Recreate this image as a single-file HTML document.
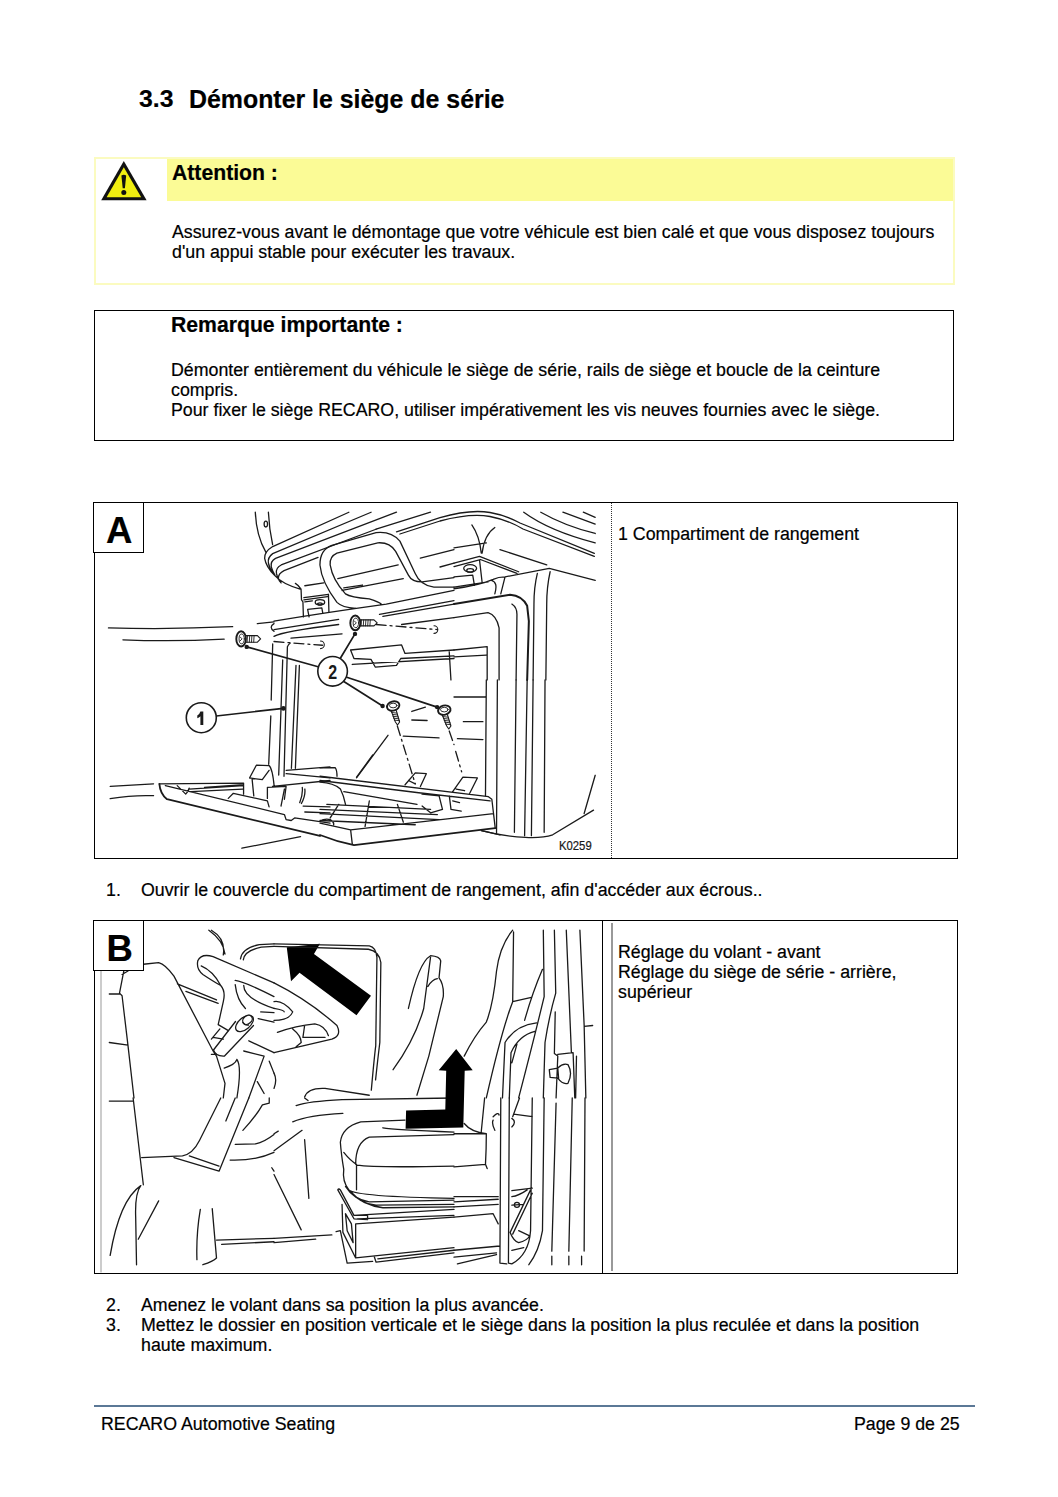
<!DOCTYPE html>
<html><head><meta charset="utf-8">
<style>
html,body{margin:0;padding:0;background:#fff;}
body{width:1058px;height:1497px;position:relative;overflow:hidden;font-family:"Liberation Sans",sans-serif;color:#000;}
.t{position:absolute;white-space:pre;line-height:1;-webkit-text-stroke:0.2px #000;}
.r{font-size:17.77px;}
.b{font-weight:bold;}
.box{position:absolute;box-sizing:border-box;}
svg{position:absolute;left:0;top:0;}
</style></head>
<body>
<!-- Title -->
<div class="t b" id="h33" style="left:139px;top:86.5px;font-size:24.8px;">3.3</div>
<div class="t b" id="htitle" style="left:189px;top:86.5px;font-size:24.9px;">Démonter le siège de série</div>

<!-- Attention box -->
<div class="box" style="left:94px;top:157px;width:861px;height:128px;border:2px solid #fbfbc0;"></div>
<div class="box" style="left:167px;top:159px;width:786px;height:42px;background:#fbfb96;"></div>
<svg width="1058" height="1497" style="pointer-events:none">
  <polygon points="123.8,160.9 101.2,200.2 146.6,200.2" fill="#111" />
  <polygon points="123.8,167.2 106.6,197.2 141.2,197.2" fill="#f0ee10" />
  <path d="M121.4,175.6 Q123.8,173.8 126.2,175.6 L124.9,188.2 L122.7,188.2 Z" fill="#111"/>
  <circle cx="123.8" cy="192.5" r="2.5" fill="#111"/>
</svg>
<div class="t b" id="attn" style="left:172px;top:162px;font-size:21.2px;">Attention :</div>
<div class="t r" style="left:172px;top:221.6px;line-height:20px;">Assurez-vous avant le démontage que votre véhicule est bien calé et que vous disposez toujours
d'un appui stable pour exécuter les travaux.</div>

<!-- Remarque box -->
<div class="box" style="left:94px;top:310px;width:860px;height:131px;border:1px solid #000;"></div>
<div class="t b" id="rem" style="left:171px;top:314px;font-size:21.2px;">Remarque importante :</div>
<div class="t r" style="left:171px;top:360px;line-height:20px;">Démonter entièrement du véhicule le siège de série, rails de siège et boucle de la ceinture
compris.
Pour fixer le siège RECARO, utiliser impérativement les vis neuves fournies avec le siège.</div>

<!-- Table A -->
<div class="box" style="left:94px;top:502px;width:864px;height:357px;border:1px solid #000;"></div>
<!--IMGA-->
<svg width="1058" height="1497" style="position:absolute;left:0;top:0" fill="none" stroke="#1a1a1a" stroke-width="1.3" stroke-linecap="round" stroke-linejoin="round">
<g transform="translate(94 502) scale(0.17013)">
<path vector-effect="non-scaling-stroke" d="M85,740 Q450,750 815,733 M170,810 Q460,822 765,806 M948,60 Q955,200 1010,295 M1025,60 Q1030,160 1050,250 M960,715 L1058,705 M1058,715 Q1025,735 1058,760"/>
<ellipse vector-effect="non-scaling-stroke" cx="1010" cy="130" rx="10" ry="17"/>




</g>
<g transform="translate(274 502) scale(0.17013)">
<path vector-effect="non-scaling-stroke" d="M600,160 L920,60 M860,330 L1058,280 
M270,370 Q270,280 340,255 L600,180 Q690,170 740,230 L830,420 Q860,490 940,500 L1058,500
M330,370 Q325,320 370,300 L610,240 Q680,235 715,290 L790,430 Q810,470 870,470 L1058,445
M270,370 Q280,470 370,590 Q400,620 480,625 M330,370 Q345,460 420,540 Q450,560 560,570 Q620,590 630,600
M375,450 L730,370 M400,520 L760,450 M410,505 L520,488

M0,700 Q300,650 660,600 L1058,520 M0,750 L380,690 M0,790 Q50,760 380,720 M620,660 L1058,580 M640,672 L1058,600 M750,720 L1058,680 M100,800 L400,775
M450,870 L750,840 L770,890 L1058,870 M450,870 L470,920 L570,925 L595,970 L720,960 L745,920 L1058,905 M460,955 L1058,920
M1030,880 L1040,1046"/>
<path vector-effect="non-scaling-stroke" stroke-dasharray="10 4 2 4" d="M600,720 L960,750 M0,820 L285,842"/>




</g>
<g transform="translate(454 502) scale(0.17013)">
<path vector-effect="non-scaling-stroke" d="M410,60 Q560,170 830,240 M510,60 Q650,140 830,185 M640,60 L830,130 M760,60 L830,90 M270,280 L545,370 M105,135 Q150,200 160,300 M240,150 Q180,190 165,300 M0,270 L190,240
M0,360 L150,320 L380,410 M0,380 L155,338 L370,420 M150,340 L165,470 M0,440 L110,430 L120,490 M0,500 L200,470
M0,510 Q150,490 230,455 Q260,440 300,440 L560,390 L830,460 M220,460 Q260,470 240,540 M300,440 Q290,480 275,540
M490,420 Q470,500 470,600 L465,1046 M565,410 Q545,500 545,600 L540,1046
M0,680 L200,650 Q250,665 265,740 L265,1046 M340,600 Q370,620 370,660 L365,1046 M0,870 L195,850 L195,1046 M0,910 L190,900"/>
<path vector-effect="non-scaling-stroke" stroke-width="2" d="M0,600 L330,545 Q400,550 430,610 L440,700 L430,1046"/>
<ellipse vector-effect="non-scaling-stroke" cx="95" cy="390" rx="38" ry="22"/>
<ellipse vector-effect="non-scaling-stroke" cx="95" cy="402" rx="20" ry="10"/>
</g>
<g transform="translate(94 680) scale(0.17013)">

<path vector-effect="non-scaling-stroke" d="M95,625 L350,610 M95,697 Q230,675 350,680
"/>

</g>
<g transform="translate(274 680) scale(0.17013)">
<path vector-effect="non-scaling-stroke" d="M810,185 L890,160 M810,235 L900,238 M760,330 L970,340 M670,325 L485,575
"/>

<path vector-effect="non-scaling-stroke" stroke-dasharray="10 4 2 4" d="M725,270 L830,610 M1030,300 L1058,380"/>





</g>
<g transform="translate(454 680) scale(0.17013)">
<path vector-effect="non-scaling-stroke" d="M190,0 L185,680 M255,0 L250,900 M365,0 L355,895 M430,0 L415,915 M465,0 L455,915 M535,0 L530,895
M160,885 Q300,920 420,925 Q520,930 580,910 L820,765 M830,560 L765,785
M0,100 L185,100 M55,245 L170,245 M20,345 L170,350
"/>
<path vector-effect="non-scaling-stroke" stroke-dasharray="10 4 2 4" d="M10,420 L45,540"/>
</g>
<g transform="translate(250 530) scale(0.094518)">
<path vector-effect="non-scaling-stroke" d="M1046,-188 L240,175 Q150,230 155,300 Q170,390 260,480 Q340,570 530,625 M1281,-188 L240,250 Q185,290 195,350 Q205,410 250,460 M1550,-188 L270,300 Q215,330 225,390 Q240,440 265,480 M1333,-8 L330,370 Q270,400 280,460 Q290,500 300,520 M720,290 L360,430 Q300,460 300,510 Q305,540 330,560
M480,565 Q520,590 540,625 L545,740 L560,760 L565,920 M580,590 L780,560 M570,715 L830,680 L835,870 M570,740 L820,705 M580,760 L660,750 M610,840 L625,920 M610,840 L760,825 L770,880"/>
<ellipse vector-effect="non-scaling-stroke" cx="740" cy="765" rx="50" ry="28"/>
<ellipse vector-effect="non-scaling-stroke" cx="740" cy="782" rx="25" ry="12"/>
</g>
<g transform="translate(150 755) scale(0.17013)">
<path vector-effect="non-scaling-stroke" d="M55,170 L550,165 M90,180 L790,350 L800,380 L830,385 L850,370 L1058,400 M160,180 Q185,205 210,230 Q225,215 230,195
M230,200 L550,180 M240,215 L545,200 M320,190 L550,175 M460,255 L490,225 L690,270 L700,305
M585,135 L625,60 L700,62 Q720,80 730,185 M585,135 L660,145 L700,90 M550,165 L550,230 M600,140 L610,240 M690,190 L690,255 M690,190 L800,185 L790,260 M770,300 L790,200
M720,185 L1058,150 M800,90 L1058,70 M800,110 L1058,135 M900,300 L1058,305 M910,335 L1058,340 M540,548 L885,480 M895,190 Q900,230 880,280 M910,200 Q915,240 890,285"/>
<path vector-effect="non-scaling-stroke" stroke-width="1.8" d="M55,170 Q60,230 100,260 L999,476"/>
</g>
<g transform="translate(320 755) scale(0.17013)">
<path vector-effect="non-scaling-stroke" d="M0,75 L90,75 Q100,90 100,125 M0,125 L990,245 L1010,260 L1020,345 M0,150 L580,222 L1000,270 M140,215 L570,290
M0,160 Q80,165 120,200 Q140,240 150,290 M40,290 L650,320 M0,320 L690,350 M0,345 L700,380 M0,385 L560,410 M290,270 L265,420 M455,290 L490,395 M110,290 L60,370
M0,400 L180,440 L1020,345 M180,440 L190,525 M1020,345 L1030,430
M500,175 L560,105 L625,110 L590,185 M520,150 L560,170 M780,215 L840,130 L925,135 L880,225 M800,200 L850,210 M215,130 L310,0
M600,230 L700,240 L720,320 L650,340 L600,300 M760,240 L770,320 L830,330 M780,270 L820,280 M950,445 L1058,470 M0,390 Q30,370 60,380 Q85,395 80,410"/>
<path vector-effect="non-scaling-stroke" stroke-width="1.8" d="M0,470 Q100,510 200,530 L1030,430"/>
</g>
<path d="M396.5,531.8 L440,517.6 Q470,509 490,512.5 Q505,515 520,523 L594.3,553.4 M399.9,534 L440,521 Q470,513 490,516.5 Q508,520 523,529 L594.3,556.4 M440,567 L454,563.2"/>
<path d="M434,625.8 A3.8,3.8 0 0 1 434,633.4 M320.5,641 A3.8,3.8 0 0 1 320.5,648.6" stroke-width="1.1"/>
<path d="M216.3,716 L283.4,708.4 M246.7,646.9 L319,667 M355,633.9 L340.5,658 M382.6,706 L343,681 M437.1,707.1 L346,677" stroke-width="1.7"/><circle cx="283.4" cy="708.4" r="2.3" fill="#1a1a1a" stroke="none"/>
<g stroke="#1a1a1a" fill="none"><ellipse cx="241.1" cy="638.9" rx="4.8" ry="7.6" stroke-width="1.9"/><ellipse cx="241.7" cy="638.9" rx="2.64" ry="4.94" stroke-width="0.9"/><path d="M240.1,636.9 L242.1,638.9 L240.1,640.9" stroke-width="0.9"/><path d="M245.5,635.6 L257.4,635.6 L260.59999999999997,638.9 L257.4,642.1999999999999 L245.5,642.1999999999999" stroke-width="1.1"/><path d="M247.5,635.6 L247.1,642.1999999999999 M249.7,635.6 L249.3,642.1999999999999 M251.9,635.6 L251.5,642.1999999999999 M254.1,635.6 L253.7,642.1999999999999" stroke-width="0.9"/><ellipse cx="355.3" cy="622.9" rx="5.0" ry="7.4" stroke-width="1.9"/><ellipse cx="355.90000000000003" cy="622.9" rx="2.75" ry="4.81" stroke-width="0.9"/><path d="M354.3,620.9 L356.3,622.9 L354.3,624.9" stroke-width="0.9"/><path d="M359.5,619.9 L374.0,619.9 L377.2,622.9 L374.0,625.9 L359.5,625.9" stroke-width="1.1"/><path d="M361.5,619.9 L361.1,625.9 M363.7,619.9 L363.3,625.9 M365.9,619.9 L365.5,625.9 M368.1,619.9 L367.7,625.9 M370.3,619.9 L369.9,625.9" stroke-width="0.9"/><ellipse cx="393.2" cy="706" rx="6.3" ry="4.6" stroke-width="1.9" transform="rotate(-15 393.2 706)"/><ellipse cx="393.2" cy="705.5" rx="3.78" ry="2.30" stroke-width="0.9"/><path d="M391.09999999999997,710.6 L395.4,722 L397.5,725 L399.6,722 L396.3,710.6" stroke-width="1.1"/><path d="M391.7,712.5 L396.9,713.1 M392.4,714.4 L397.6,715.0 M393.0,716.3 L398.2,716.9 M393.6,718.2 L398.8,718.8 M394.3,720.1 L399.5,720.7" stroke-width="0.9"/><ellipse cx="444.3" cy="710.1" rx="6.3" ry="4.6" stroke-width="1.9" transform="rotate(-15 444.3 710.1)"/><ellipse cx="444.3" cy="709.6" rx="3.78" ry="2.30" stroke-width="0.9"/><path d="M442.2,714.7 L446.7,726 L448.8,729 L450.90000000000003,726 L447.40000000000003,714.7" stroke-width="1.1"/><path d="M442.9,716.6 L448.1,717.2 M443.5,718.5 L448.7,719.1 M444.2,720.4 L449.4,721.0 M444.9,722.2 L450.1,722.8 M445.5,724.1 L450.7,724.7" stroke-width="0.9"/></g><circle cx="246.7" cy="646.9" r="2.2" fill="#1a1a1a" stroke="none"/><circle cx="355" cy="633.9" r="2.2" fill="#1a1a1a" stroke="none"/><circle cx="382.6" cy="706" r="2.2" fill="#1a1a1a" stroke="none"/><circle cx="437.1" cy="707.1" r="2.2" fill="#1a1a1a" stroke="none"/>
<path d="M272.7,644 L271.2,700 M270.8,716 L268.7,764.3 M282.7,660 L278.7,775 M287.4,646.7 Q288.5,644 290,643.5 M287.4,646.7 L284,776.3 M296,665.4 L291.4,768.3 M299.4,665.4 L295.4,768.3"/>
<circle cx="332.6" cy="671.3" r="14.8" fill="#fff" stroke-width="1.6"/>
<circle cx="201.3" cy="717.7" r="15" fill="#fff" stroke-width="1.6"/>
<text x="0" y="0" transform="translate(332.6 678.6) scale(0.8 1)" style="font-family:'Liberation Sans';font-weight:bold;font-size:20px" fill="#1a1a1a" stroke="none" text-anchor="middle">2</text>
<path d="M200.4,711.6 L203.3,711.6 L203.3,725 L200.4,725 L200.4,716.3 Q199,717.6 197.3,718.2 L197.3,715.6 Q199.6,714.4 200.4,711.6 Z" fill="#1a1a1a" stroke="none"/>
</svg>
<!--/IMGA-->
<div class="box" style="left:611px;top:503px;width:1px;height:355px;border-left:1px dotted #333;"></div>
<div class="box" style="left:93px;top:502px;width:51px;height:51px;border:1.5px solid #000;background:#fff;"></div>
<div class="t b" style="left:106px;top:512.5px;font-size:36.5px;">A</div>
<div class="t r" style="left:618px;top:526px;">1 Compartiment de rangement</div>
<div class="t" style="left:559.3px;top:839.4px;font-size:13px;transform:scaleX(0.87);transform-origin:0 0;color:#222">K0259</div>

<div class="t r" style="left:106px;top:882px;">1.</div>
<div class="t r" style="left:141px;top:882px;">Ouvrir le couvercle du compartiment de rangement, afin d'accéder aux écrous..</div>

<!-- Table B -->
<div class="box" style="left:94px;top:920px;width:864px;height:354px;border:1px solid #000;"></div>
<!--IMGB-->
<svg width="1058" height="1497" style="position:absolute;left:0;top:0" fill="none" stroke="#1a1a1a" stroke-width="1.3" stroke-linecap="round" stroke-linejoin="round">
<line x1="101" y1="970" x2="101" y2="1272" stroke="#aaa" stroke-width="1.2"/>
<g transform="translate(94 920) scale(0.17013)">
<path vector-effect="non-scaling-stroke" d="M290,260 L380,250 Q420,260 470,330 L700,770 L720,800 L770,960 L760,1046
M175,300 L150,430 L165,445 L200,740 L235,1046 M90,435 L150,435 M90,720 L200,735 M165,320 L200,300
M610,240 Q630,195 700,215 L1058,370 M610,240 Q600,290 640,320 Q700,360 745,385 Q775,420 760,480 L730,615 L790,650 M630,270 Q700,300 745,385
M675,60 Q760,120 770,200 M690,60 Q775,110 760,205
M861,229 Q870,165 972,145 L1058,140 M877.6,234 Q885,180 983,160 L1058,155
M830,355 Q880,360 1058,450 M830,380 Q840,470 890,520 M880,385 Q880,460 1058,520 M980,540 L1058,545 M965,580 L1058,600
M690,700 L740,640 M700,690 L760,700 M690,790 L720,790
M490,375 L720,470 M540,420 L730,490 M765,870 Q830,850 840,820 M840,820 Q870,860 840,1046
M910,710 L1058,780 M880,770 L1000,800 L910,1046 M960,950 L1000,1020 M1030,830 L1058,900"/>


</g>
<g transform="translate(274 920) scale(0.17013)">
<polygon points="75,160 270,140 235,200 570,445 485,560 150,310 100,360" fill="#000" stroke="none"/>
<path vector-effect="non-scaling-stroke" d="M0,140 L560,152 Q600,160 605,220 L598,740 Q590,800 572,1000 M0,155 L555,172 Q620,185 628,250 L622,720 Q612,800 597,940
M0,370 Q200,470 370,620 Q400,680 340,700 L0,780
M0,480 Q50,470 110,540 Q90,590 0,590 M0,520 Q60,530 60,540 M20,660 Q130,620 240,610 Q300,620 320,680 M110,640 Q160,680 160,720 L130,745 M180,620 L170,690 L300,690
M790,520 Q850,250 920,210 Q975,215 980,240 L970,340 Q1000,380 995,450 L910,800 L840,1030 M920,220 L880,520 Q830,700 700,880 M905,390 Q930,350 960,345
M180,1040 Q200,985 300,990 L560,1030 M0,900 Q20,940 0,990"/>
</g>
<g transform="translate(454 920) scale(0.17013)">
<path vector-effect="non-scaling-stroke" d="M345,60 Q270,150 250,300 Q230,500 190,600 Q120,680 60,800
M350,70 L345,480 L455,455 M345,480 Q280,650 190,1046 M520,290 Q460,430 415,590
M485,605 Q360,620 300,720 L285,1046 M475,655 Q380,680 335,780 L325,1046 M370,730 L340,840
M525,60 L530,450 Q470,700 380,1046 M590,60 L598,430 Q560,560 535,720 L525,1046
M660,60 L690,780 M740,60 L765,620 L775,1046 M765,625 L815,620
M595,540 L590,785 L610,800 L600,1046 M610,790 L700,780 L710,1046 M720,800 L715,1046
M560,880 L610,870 Q640,840 670,850 Q700,900 670,960 Q640,970 610,930 L565,925 Z M610,870 L615,930"/>
</g>
<g transform="translate(94 1098) scale(0.17013)">
<path vector-effect="non-scaling-stroke" d="M90,18 L230,18 M230,0 L290,510
M280,350 L520,340 Q580,330 620,250 L745,0 M470,350 L735,430 L910,0 M560,340 L735,400 M775,135 L830,0
M875,190 Q950,110 990,40 L1030,30 L1030,0 M830,272 L950,270 Q1000,260 1058,215 M800,365 Q950,370 1058,320 M1045,410 L1058,430
M275,515 Q150,600 95,925 M275,515 Q240,560 245,700 L250,980 M380,605 L260,830
M625,655 Q600,800 605,950 M695,650 L720,940 Q700,960 640,980 M720,835 L1058,825 M750,860 L1058,845"/>
</g>
<g transform="translate(274 1098) scale(0.17013)">
<path vector-effect="non-scaling-stroke" d="M640,175 Q700,185 1058,200
M770,130 L510,140 Q400,170 390,260 Q395,330 410,420 Q400,490 440,540 Q480,580 1058,590 M410,320 Q450,370 485,390 L485,540 M480,390 Q480,260 560,230 L1058,215 M485,395 Q600,410 1058,400
M420,520 Q470,600 560,610 L1058,600 M440,540 Q500,620 600,630 L1058,625 M460,560 Q520,630 640,645 L1058,640
M375,540 Q380,530 390,540 L470,690 L550,690 L550,715 L470,710 Z M400,625 L405,790 L480,940 L1058,880 M480,740 L1058,700 M480,740 L480,940 M420,680 L430,780 L465,850 L455,740 Z M470,690 L1058,655 M490,710 L1058,690
M365,785 L390,780 L430,970 L580,960 M590,935 L600,965 L1058,910 M610,945 L1058,895
M130,45 Q200,20 400,10 L1058,0 M110,140 Q200,100 405,90 M0,310 L165,190 M0,210 L25,195 M180,245 L205,590 M0,450 L160,775 M0,825 L340,805 M0,850 L245,830 M180,0 L200,15"/>

</g>
<g transform="translate(454 1098) scale(0.17013)">

<path vector-effect="non-scaling-stroke" d="M275,0 L270,970 L310,975 M325,0 L320,970 L340,975 Q440,920 450,780 L460,0 M530,0 L520,780 Q500,900 440,980
M600,30 L575,900 M575,930 L575,980 M695,0 L675,900 M675,930 L675,980 M770,0 L765,900 M750,930 L750,980
M180,0 L160,200 M385,0 L345,110 M350,95 L460,110 M230,110 Q260,80 265,100 M240,190 Q220,150 230,130 M340,120 Q370,140 340,170
M0,210 L190,210 Q190,300 185,390 L0,405 M185,390 L195,415 M60,150 Q100,200 190,210
M0,580 L260,580 M0,610 L260,595 M0,640 L260,625 M0,700 L230,680 L260,740
M0,895 L270,870 M0,935 L250,910 M20,975 L250,920
M340,545 L460,530 M340,580 Q380,575 430,540 M340,630 L410,625 M330,790 L450,540 M345,800 L460,560 M330,790 Q350,840 380,850 Q430,840 445,810 M380,780 L445,810 M340,895 L410,880"/>
<circle vector-effect="non-scaling-stroke" cx="370" cy="628" r="15"/>
</g>
<path d="M235.5,1021.5 L213.5,1050 Q215.5,1056.5 224.5,1056 L253.5,1025.5"/>
<ellipse cx="244.5" cy="1023.5" rx="10.5" ry="5.8" transform="rotate(-40 244.5 1023.5)"/>
<ellipse cx="247.5" cy="1019.8" rx="5.2" ry="4" transform="rotate(-40 247.5 1019.8)" fill="#fff"/>
<path d="M242.8,1022.5 Q244.5,1025.5 248.5,1025"/>
<polygon points="456.2,1049 472.7,1070.2 464.7,1070.7 463.3,1127.4 405.6,1128.8 406.1,1110.4 445.3,1109.5 446.2,1070.7 438.7,1070.2" fill="#000" stroke="none"/>
</svg>
<!--/IMGB-->
<div class="box" style="left:602px;top:921px;width:1px;height:352px;background:#000;"></div>
<div class="box" style="left:611px;top:923px;width:1.5px;height:348px;background:#999;"></div>
<div class="box" style="left:93px;top:920px;width:51px;height:51px;border:1.5px solid #000;background:#fff;"></div>
<div class="t b" style="left:106.5px;top:930.5px;font-size:36.5px;">B</div>
<div class="t r" style="left:618px;top:941.8px;line-height:20.3px;">Réglage du volant - avant
Réglage du siège de série - arrière,
supérieur</div>

<div class="t r" style="left:106px;top:1294.7px;line-height:20.3px;">2.
3.</div>
<div class="t r" style="left:141px;top:1294.7px;line-height:20.3px;">Amenez le volant dans sa position la plus avancée.
Mettez le dossier en position verticale et le siège dans la position la plus reculée et dans la position
haute maximum.</div>

<!-- Footer -->
<div class="box" style="left:94px;top:1405px;width:881px;height:1.6px;background:#5b7896;"></div>
<div class="t r" style="left:101px;top:1416px;">RECARO Automotive Seating</div>
<div class="t r" style="left:854px;top:1415.7px;">Page 9 de 25</div>

</body></html>
